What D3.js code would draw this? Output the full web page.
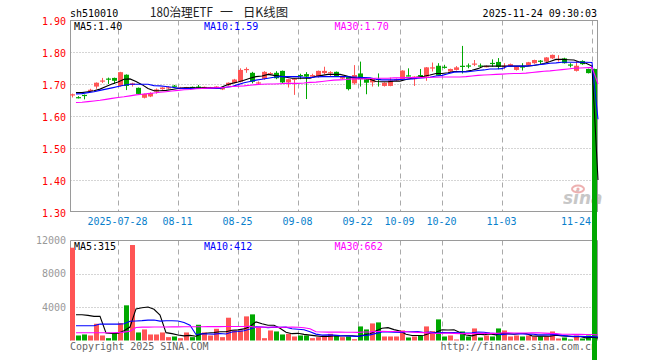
<!DOCTYPE html>
<html><head><meta charset="utf-8">
<script src="https://cdn.jsdelivr.net/npm/d3@7"></script>
<style>
html,body{margin:0;padding:0;background:#fff;}
svg{display:block;}
text{font-family:"DejaVu Sans Mono",monospace;font-size:10px;}
</style>
</head><body>
<svg id="c" width="660" height="360"></svg>
<script>
const code = "sh510010";
const titleParts = ["180治理ETF", "一", "日K线图"];
const stamp = "2025-11-24 09:30:03";
const dates = ["07-16","07-17","07-18","07-21","07-22","07-23","07-24","07-25","07-28","07-29","07-30","07-31","08-01","08-04","08-05","08-06","08-07","08-08","08-11","08-12","08-13","08-14","08-15","08-18","08-19","08-20","08-21","08-22","08-25","08-26","08-27","08-28","08-29","09-01","09-02","09-03","09-04","09-05","09-08","09-09","09-10","09-11","09-12","09-15","09-16","09-17","09-18","09-19","09-22","09-23","09-24","09-25","09-26","09-29","09-30","10-09","10-10","10-13","10-14","10-15","10-16","10-17","10-20","10-21","10-22","10-23","10-24","10-27","10-28","10-29","10-30","10-31","11-03","11-04","11-05","11-06","11-07","11-10","11-11","11-12","11-13","11-14","11-17","11-18","11-19","11-20","11-21","11-24"];
const open  = [1.664,1.659,1.666,1.679,1.692,1.708,1.717,1.719,1.694,1.729, 1.697,1.688,1.657,1.661,1.676,1.684,1.686,1.695,1.686,1.687, 1.691,1.692,1.687,1.686,1.687,1.683,1.696,1.704,1.707,1.744, 1.735,1.702,1.716,1.731,1.735,1.741,1.705,1.713,1.728,1.731, 1.723,1.723,1.734,1.735,1.738,1.717,1.723,1.702,1.733,1.715, 1.705,1.716,1.694,1.694,1.711,1.715,1.727,1.715,1.728,1.723, 1.750,1.757,1.754,1.739,1.744,1.757,1.758,1.762,1.758,1.754, 1.766,1.769,1.755,1.756,1.744,1.755,1.759,1.765,1.773,1.770, 1.780,1.776,1.780,1.761,1.741,1.772,1.747,1.747];
const high  = [1.670,1.662,1.667,1.685,1.705,1.719,1.720,1.720,1.738,1.730, 1.704,1.689,1.670,1.674,1.686,1.690,1.693,1.697,1.691,1.691, 1.692,1.697,1.692,1.691,1.693,1.691,1.705,1.716,1.749,1.752, 1.738,1.708,1.740,1.737,1.740,1.742,1.716,1.718,1.732,1.737, 1.732,1.742,1.754,1.740,1.739,1.726,1.724,1.759,1.770,1.720, 1.719,1.733,1.705,1.720,1.717,1.743,1.749,1.724,1.747,1.753, 1.767,1.765,1.760,1.748,1.756,1.819,1.764,1.775,1.764,1.758, 1.777,1.781,1.765,1.764,1.756,1.765,1.769,1.776,1.775,1.784, 1.792,1.790,1.782,1.765,1.772,1.774,1.748,1.748];
const low   = [1.658,1.655,1.652,1.676,1.685,1.703,1.700,1.700,1.692,1.681, 1.692,1.668,1.655,1.659,1.670,1.682,1.684,1.692,1.684,1.686, 1.687,1.689,1.686,1.685,1.685,1.681,1.694,1.702,1.705,1.735, 1.702,1.698,1.713,1.728,1.715,1.703,1.689,1.666,1.715,1.653, 1.720,1.720,1.730,1.724,1.722,1.715,1.680,1.698,1.692,1.668, 1.692,1.692,1.692,1.693,1.709,1.714,1.724,1.694,1.724,1.710, 1.739,1.725,1.748,1.737,1.742,1.733,1.749,1.756,1.750,1.752, 1.754,1.746,1.746,1.755,1.742,1.742,1.757,1.763,1.763,1.768, 1.778,1.770,1.764,1.752,1.739,1.760,1.733,0];
const close = [1.668,1.657,1.664,1.682,1.704,1.711,1.715,1.710,1.737,1.694, 1.702,1.669,1.669,1.672,1.683,1.689,1.690,1.694,1.689,1.690, 1.689,1.691,1.691,1.690,1.692,1.690,1.704,1.714,1.744,1.747, 1.707,1.705,1.738,1.734,1.718,1.705,1.715,1.717,1.726,1.723, 1.728,1.741,1.741,1.737,1.723,1.724,1.684,1.728,1.715,1.704, 1.718,1.714,1.704,1.711,1.715,1.742,1.725,1.723,1.726,1.752, 1.752,1.726,1.752,1.747,1.752,1.755,1.756,1.764,1.757,1.756, 1.765,1.754,1.757,1.762,1.754,1.754,1.768,1.775,1.772,1.783, 1.791,1.778,1.765,1.760,1.757,1.762,1.734,0];
const volume = [11080,600,720,600,2000,600,280,880,2080,4200, 11400,960,1320,720,720,960,400,480,280,960, 400,1880,960,600,1400,400,2720,1200,1200,2880, 3120,1600,280,1200,1080,720,800,480,600,600, 280,400,600,800,600,400,480,160,1680,1320, 2040,2160,480,480,480,1200,360,480,600,1680, 1120,2520,480,600,120,1080,480,1440,360,600, 480,1440,1200,480,600,480,600,480,480,480, 1080,240,360,120,600,240,600,0];
const ma5  = [1.673,1.673,1.676,1.679,1.684,1.692,1.700,1.706,1.715,1.716, 1.708,1.698,1.686,1.679,1.679,1.680,1.683,1.686,1.688,1.688, 1.688,1.688,1.688,1.688,1.688,1.696,1.702,1.706,1.712,1.718, 1.723,1.725,1.730,1.727,1.725,1.721,1.718,1.718,1.718,1.718, 1.724,1.727,1.730,1.730,1.730,1.726,1.720,1.718,1.718,1.715, 1.708,1.707,1.707,1.709,1.709,1.714,1.718,1.722,1.724,1.728, 1.733,1.733,1.735,1.739,1.739,1.740,1.743,1.748,1.756,1.756, 1.756,1.756,1.756,1.756,1.756,1.756,1.757,1.760,1.764,1.770, 1.777,1.777,1.776,1.775,1.768,1.765,1.756,1.40];
const ma10 = [1.669,1.670,1.673,1.676,1.680,1.684,1.688,1.692,1.696,1.699, 1.699,1.699,1.699,1.695,1.694,1.692,1.690,1.687,1.686,1.686, 1.686,1.686,1.686,1.686,1.687,1.690,1.692,1.698,1.704,1.708, 1.712,1.715,1.718,1.721,1.723,1.723,1.723,1.723,1.721,1.720, 1.722,1.723,1.723,1.723,1.723,1.723,1.722,1.721,1.720,1.719, 1.715,1.713,1.713,1.713,1.714,1.715,1.716,1.718,1.720,1.721, 1.725,1.727,1.732,1.737,1.738,1.738,1.740,1.742,1.744,1.747, 1.747,1.748,1.756,1.756,1.756,1.756,1.758,1.760,1.762,1.765, 1.766,1.768,1.768,1.768,1.768,1.768,1.767,1.59];
const ma30 = [1.642,1.643,1.645,1.647,1.649,1.652,1.655,1.658,1.660,1.663, 1.666,1.668,1.670,1.672,1.674,1.676,1.678,1.680,1.682,1.683, 1.685,1.686,1.687,1.688,1.689,1.690,1.692,1.693,1.694,1.696, 1.698,1.699,1.700,1.700,1.701,1.702,1.702,1.702,1.703,1.705, 1.706,1.708,1.710,1.712,1.713,1.714,1.716,1.716,1.716,1.717, 1.718,1.718,1.718,1.719,1.719,1.720,1.720,1.720,1.720,1.721, 1.721,1.722,1.722,1.722,1.722,1.723,1.725,1.727,1.728,1.729, 1.730,1.731,1.732,1.733,1.733,1.734,1.736,1.738,1.740,1.741, 1.743,1.745,1.747,1.749,1.750,1.751,1.752,1.70];
const vma5  = [3080,3080,3000,2880,2900,900,840,872,1168,1608, 3768,3904,3992,3720,3024,936,824,656,552,616, 504,800,896,960,1048,1048,1216,1264,1384,1680, 2224,2000,1816,1816,1456,976,816,856,736,640, 552,472,496,536,536,560,576,488,664,808, 1136,1472,1536,1296,1128,744,600,600,624,864, 992,1280,1256,1280,968,664,552,744,696,792, 672,864,816,744,840,840,552,528,528,504, 624,552,528,456,480,312,392,315];
const vma10 = [1760,1760,1760,1760,1960,1960,1960,1960,2000,2304, 2336,2372,2432,2444,2316,2352,2364,2324,2144,1820, 720,812,776,764,832,776,1008,1080,1172,1364, 1636,1608,1540,1600,1568,1600,1408,1336,1276,1048, 764,644,676,636,588,556,524,492,600,672, 848,1024,1012,980,968,1048,1036,1068,960,996, 904,940,940,952,916,904,916,1012,988,880, 816,708,780,768,816,756,768,672,684,672, 732,612,528,492,492,468,468,412];
const vma30 = [920,920,920,920,920,920,920,960,1000,1120, 1560,1600,1600,1610,1620,1620,1630,1630,1640,1640, 1640,1650,1660,1660,1660,1670,1670,1680,1680,1700, 1564,1597,1583,1603,1572,1576,1593,1580,1531,1411, 1040,1021,997,1000,996,977,980,969,1016,1028, 1083,1092,1076,1072,1041,1068,989,965,945,905, 839,869,876,856,824,836,825,857,849,849, 856,891,911,900,900,903,907,917,877,849, 817,753,749,737,741,709,717,662];
const tickDates  = ["07-28","08-11","08-25","09-08","09-22","10-09","10-20","11-03","11-24"];
const tickLabels = ["2025-07-28","08-11","08-25","09-08","09-22","10-09","10-20","11-03","11-24"];
const priceTicks = [1.90,1.80,1.70,1.60,1.50,1.40,1.30];
const volTicks = [12000,8000,4000];
const maNames = ["MA5","MA10","MA30"];
const maLast = ["1.40","1.59","1.70"];
const vmaLast = ["315","412","662"];

const RED = "#ff5555", GREEN = "#00a800", GRID = "#aaaaaa", FRAME = "#9a9a9a";
const maColors = ["#000000","#0000ff","#ff00ff"];
const svg = d3.select("#c");
svg.append("rect").attr("width",660).attr("height",360).attr("fill","#fff");

const idx = d3.range(dates.length);
const x = d3.scaleLinear().domain([0, dates.length-1]).range([70, 70 + 6*(dates.length-1)]);
const y = d3.scaleLinear().domain([1.30, 1.90]).range([212, 20]);
const yv = d3.scaleLinear().domain([0, 12000]).range([340.5, 240]);
const X0 = 70.5, X1 = 597.5;

// header
svg.append("text").attr("x",70).attr("y",17).text(code);
const cjk = '"Noto Sans CJK SC",sans-serif';
const titleX = [150, 220, 243], titleW = [63, 13, 45];
titleParts.forEach((t,k)=>{
  svg.append("text").attr("x",titleX[k]).attr("y",17).attr("textLength",titleW[k]).attr("lengthAdjust","spacingAndGlyphs")
    .style("font-family",cjk).style("font-size","12.5px").attr("fill","#222").text(t);
});
svg.append("text").attr("x",597).attr("y",17).attr("text-anchor","end").text(stamp);

// grid main
const tickIdx = tickDates.map(d => dates.indexOf(d));
const g = svg.append("g");
g.selectAll(".hg").data(priceTicks.slice(1,-1)).enter().append("line")
  .attr("x1",X0).attr("x2",X1).attr("y1",d=>Math.round(y(d))+0.5).attr("y2",d=>Math.round(y(d))+0.5)
  .attr("stroke",GRID).attr("stroke-dasharray","1,2");
g.selectAll(".vg").data(tickIdx).enter().append("line")
  .attr("x1",d=>x(d)+0.5).attr("x2",d=>x(d)+0.5).attr("y1",20.5).attr("y2",211.5)
  .attr("stroke",GRID).attr("stroke-dasharray","5,4");
// grid vol
g.selectAll(".hv").data(volTicks.slice(1)).enter().append("line")
  .attr("x1",X0).attr("x2",X1).attr("y1",d=>Math.round(yv(d))+0.5).attr("y2",d=>Math.round(yv(d))+0.5)
  .attr("stroke",GRID).attr("stroke-dasharray","1,2");
g.selectAll(".vv").data(tickIdx).enter().append("line")
  .attr("x1",d=>x(d)+0.5).attr("x2",d=>x(d)+0.5).attr("y1",240.5).attr("y2",340.5)
  .attr("stroke",GRID).attr("stroke-dasharray","5,4");

// frames
svg.append("rect").attr("x",X0).attr("y",20.5).attr("width",X1-X0).attr("height",191).attr("fill","none").attr("stroke",FRAME);
svg.append("path").attr("d",`M${X0},340.5V240.5H${X1}V340.5`).attr("fill","none").attr("stroke",FRAME);

// axis labels
svg.selectAll(".pl").data(priceTicks).enter().append("text")
  .attr("x",66).attr("y",d=>y(d)+(d===1.90?5:4.5)).attr("text-anchor","end").attr("fill","#ff0000")
  .text(d=>d.toFixed(2));
svg.selectAll(".vl").data(volTicks).enter().append("text")
  .attr("x",66).attr("y",d=>yv(d)+3.5).attr("text-anchor","end").attr("fill","#999").text(d=>d);
svg.selectAll(".xl").data(tickIdx).enter().append("text")
  .attr("x",(d,i)=> i===tickIdx.length-1 ? x(d)-1 : x(d)-0.5)
  .attr("text-anchor",(d,i)=> i===tickIdx.length-1 ? "end" : "middle")
  .attr("y",225).attr("fill","#0a7fcc").text((d,i)=>tickLabels[i]);

// legends
const legX = [74,204,334.5];
maNames.forEach((n,k)=>{
  svg.append("text").attr("x",legX[k]).attr("y",29.5).attr("fill",maColors[k]).text(n+":"+maLast[k]);
  svg.append("text").attr("x",legX[k]).attr("y",250).attr("fill",maColors[k]).text(n+":"+vmaLast[k]);
});

// sina watermark
const wm = svg.append("g").attr("opacity",0.55);
wm.append("text").attr("x",563).attr("y",204).style("font-family",'"DejaVu Sans",sans-serif')
  .style("font-size","17px").style("font-weight","bold").style("font-style","italic").attr("fill","#9a9a9a").text("sina");
wm.append("ellipse").attr("cx",578).attr("cy",189).attr("rx",6).attr("ry",3.5).attr("fill","none").attr("stroke","#e07070").attr("stroke-width",2);
wm.append("circle").attr("cx",578).attr("cy",189).attr("r",1.6).attr("fill","#e07070");

// footer
svg.append("text").attr("x",70).attr("y",350).attr("fill","#666").text("Copyright 2025 SINA.COM");
svg.append("text").attr("x",597).attr("y",350).attr("text-anchor","end").attr("fill","#666").text("http://finance.sina.com.cn");

// volume bars
const col = i => close[i] >= open[i] ? RED : GREEN;
svg.append("g").selectAll("rect").data(idx).enter().append("rect")
  .attr("x",i=>x(i)).attr("width",5)
  .attr("y",i=>yv(volume[i])).attr("height",i=>yv(0)-yv(volume[i]))
  .attr("fill",col);

// candles
const cg = svg.append("g");
cg.selectAll("line").data(idx).enter().append("line")
  .attr("x1",i=>x(i)+2.5).attr("x2",i=>x(i)+2.5)
  .attr("y1",i=>y(high[i])).attr("y2",i=>y(low[i])).attr("stroke",col);
cg.selectAll("rect").data(idx).enter().append("rect")
  .attr("x",i=>x(i)).attr("width",5)
  .attr("y",i=>y(Math.max(open[i],close[i])))
  .attr("height",i=>Math.max(1.2, y(Math.min(open[i],close[i]))-y(Math.max(open[i],close[i]))))
  .attr("fill",col);

// MA lines
const off = 6;
[ma5,ma10,ma30].forEach((arr,k)=>{
  svg.append("path").datum(idx).attr("fill","none").attr("stroke",maColors[k]).attr("stroke-width",1.1)
    .attr("d",d3.line().x(i=>x(i)+off).y(i=>y(arr[i])));
});
[vma5,vma10,vma30].forEach((arr,k)=>{
  svg.append("path").datum(idx).attr("fill","none").attr("stroke",maColors[k]).attr("stroke-width",1.1)
    .attr("d",d3.line().x(i=>x(i)+off).y(i=>yv(arr[i])));
});
</script>
</body></html>
